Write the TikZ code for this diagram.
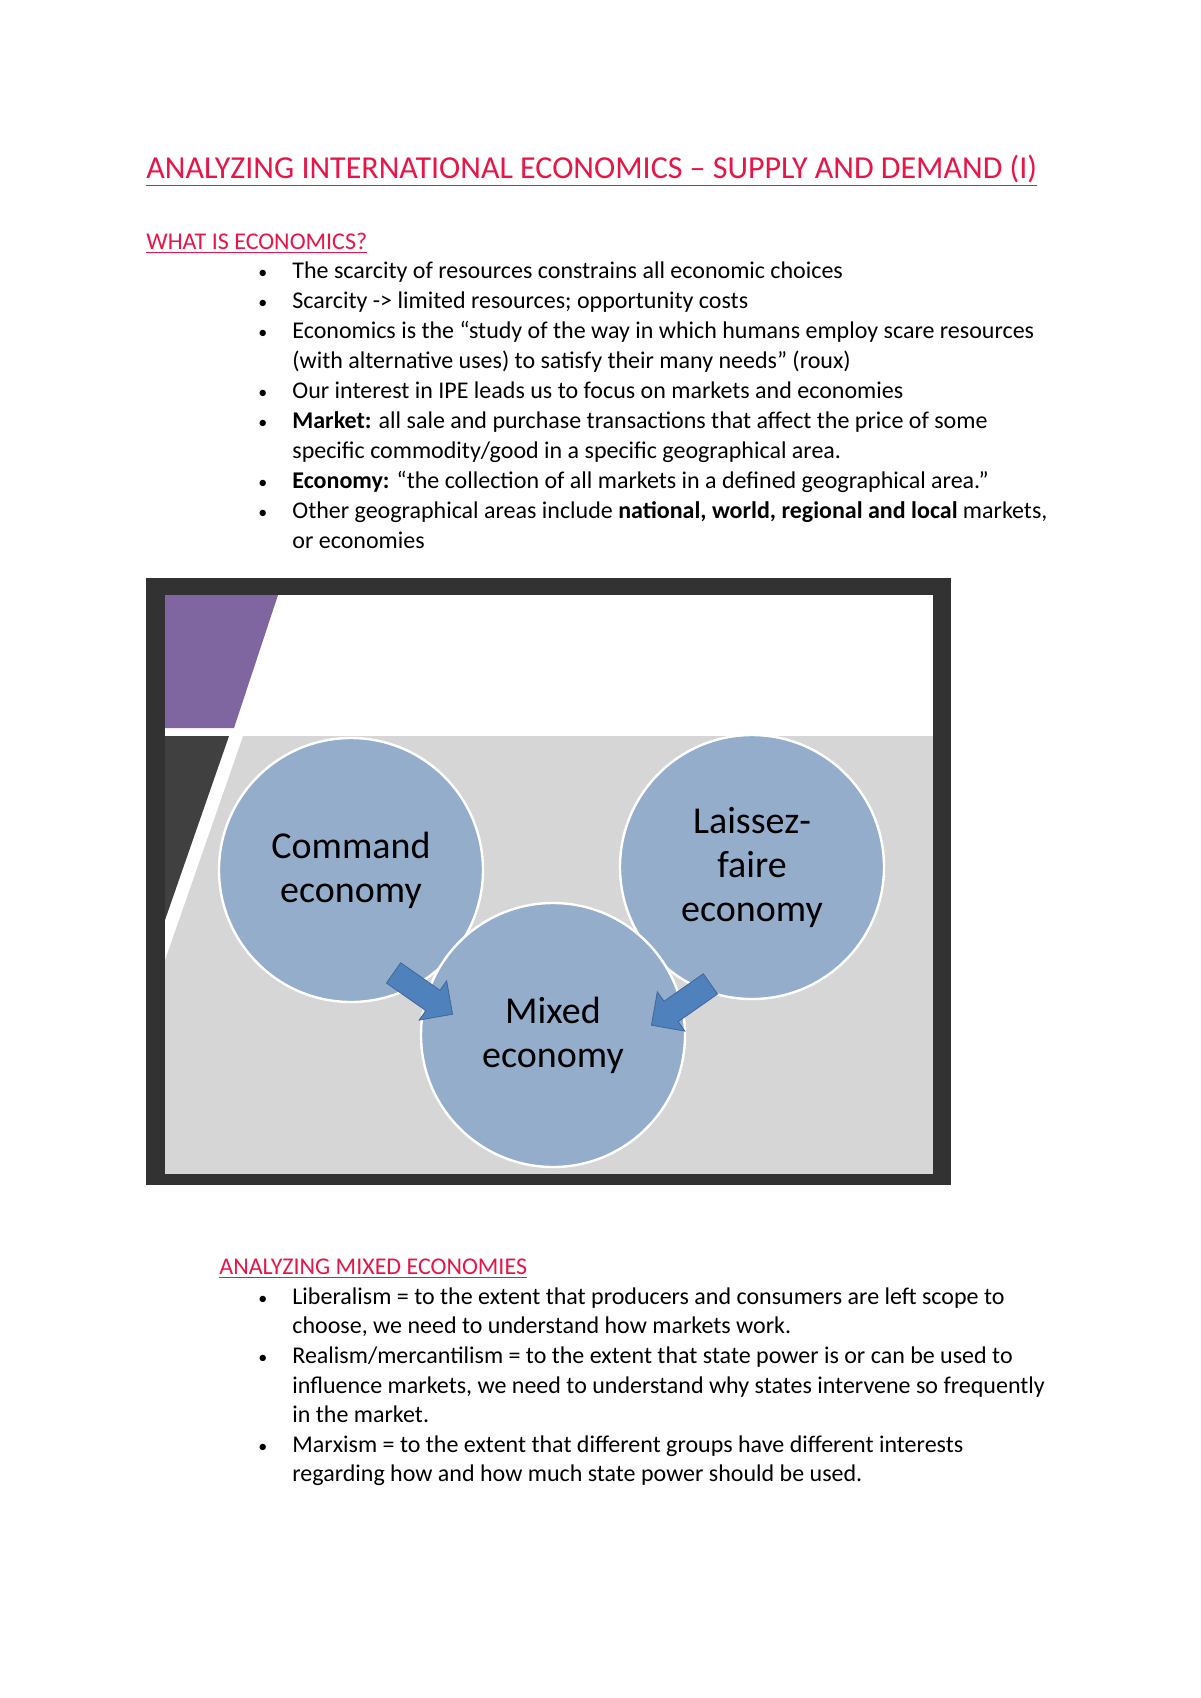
\documentclass[tikz,border=0pt]{standalone}
\usepackage{fontspec}
\setmainfont{Carlito}
\usetikzlibrary{shapes.arrows}
\definecolor{hred}{RGB}{232,22,72}
\definecolor{circ}{RGB}{148,173,202}
\definecolor{arr}{RGB}{79,129,189}
\definecolor{frame}{RGB}{50,50,50}
\definecolor{slgray}{RGB}{214,214,214}
\definecolor{purp}{RGB}{128,102,160}
\definecolor{dk}{RGB}{64,64,64}
\begin{document}
\begin{tikzpicture}[x=0.5pt,y=-0.5pt,
  body/.style={anchor=base west,inner sep=0pt,font=\fontsize{12}{14}\selectfont},
  bul/.style={anchor=base west,inner sep=0pt,font=\fontsize{9}{14}\selectfont},
  head/.style={anchor=base west,inner sep=0pt,text=hred},
  circnode/.style={circle,fill=circ,draw=white,line width=1.2pt,minimum size=132pt,inner sep=0pt,align=center,font=\fontsize{19}{22}\selectfont},
  blockarr/.style={single arrow,fill=arr,draw=arr!80!black,line width=0.4pt,minimum height=36pt,minimum width=24pt,single arrow head extend=3pt,inner sep=3pt}]
\useasboundingbox (0,0) rectangle (1200,1698);
\fill[white] (0,0) rectangle (1200,1698);
% title
\node[head,font=\fontsize{16}{18}\selectfont] (title) at (146,178) {\underline{ANALYZING INTERNATIONAL ECONOMICS – SUPPLY AND DEMAND (I)}};
\node[head,font=\fontsize{12}{14}\selectfont] (h1) at (146,249) {\underline{WHAT IS ECONOMICS?}};
\foreach \y in {278,308,338,398,428,488,518}{\node[bul] at (258,\y) {•};}
\node[body] (b1) at (292,278) {The scarcity of resources constrains all economic choices};
\node[body] (b2) at (292,308) {Scarcity -> limited resources; opportunity costs};
\node[body] (b3) at (292,338) {Economics is the “study of the way in which humans employ scare resources};
\node[body] (b3b) at (292,368) {(with alternative uses) to satisfy their many needs” (roux)};
\node[body] (b4) at (292,398) {Our interest in IPE leads us to focus on markets and economies};
\node[body] (b5) at (292,428) {\textbf{Market:} all sale and purchase transactions that affect the price of some};
\node[body] (b5b) at (292,458) {specific commodity/good in a specific geographical area.};
\node[body] (b6) at (292,488) {\textbf{Economy:} “the collection of all markets in a defined geographical area.”};
\node[body] (b7) at (292,518) {Other geographical areas include \textbf{national, world, regional and local} markets,};
\node[body] (b7b) at (292,548) {or economies};
% slide
\fill[frame] (146,578) rectangle (951,1185);
\fill[white] (165,595) rectangle (933,1174);
\fill[slgray] (165,736) rectangle (933,1174);
\fill[purp] (165,595) -- (278,595) -- (234,728) -- (165,728) -- cycle;
\fill[white] (229,736) -- (243,736) -- (165,960) -- (165,920) -- cycle;
\fill[dk] (165,736) -- (229,736) -- (165,920) -- cycle;
\node[circnode] (cmd) at (351,870) {Command\\economy};
\node[circnode] (lf) at (752,867) {Laissez-\\faire\\economy};
\node[circnode] (mix) at (553,1035) {Mixed\\economy};
\node[blockarr,rotate=-35] (a1) at (418,990) {};
\node[blockarr,rotate=-145] (a2) at (686,1001) {};
% second section
\node[head,font=\fontsize{12}{14}\selectfont] (h2) at (219,1274) {\underline{ANALYZING MIXED ECONOMIES}};
\foreach \y in {1304,1363,1452}{\node[bul] at (258,\y) {•};}
\node[body] (c1) at (292,1304) {Liberalism = to the extent that producers and consumers are left scope to};
\node[body] (c1b) at (292,1333) {choose, we need to understand how markets work.};
\node[body] (c2) at (292,1363) {Realism/mercantilism = to the extent that state power is or can be used to};
\node[body] (c2b) at (292,1393) {influence markets, we need to understand why states intervene so frequently};
\node[body] (c2c) at (292,1422) {in the market.};
\node[body] (c3) at (292,1452) {Marxism = to the extent that different groups have different interests};
\node[body] (c3b) at (292,1481) {regarding how and how much state power should be used.};
\end{tikzpicture}
\end{document}
